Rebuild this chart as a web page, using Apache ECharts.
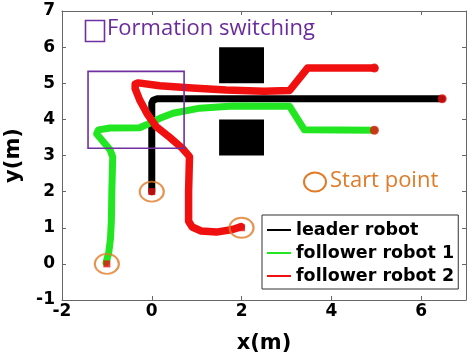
<!DOCTYPE html>
<html>
<head>
<meta charset="utf-8">
<script src="https://cdn.jsdelivr.net/npm/echarts@6/dist/echarts.min.js"></script>
<style>html,body{margin:0;padding:0;background:#fff}#c{width:474px;height:359px}</style>
</head>
<body>
<div id="c"></div>
<script>
var xTicks = [-2, 0, 2, 4, 6];
var yTicks = [-1, 0, 1, 2, 3, 4, 5, 6, 7];
var seriesNames = ['leader robot', 'follower robot 1', 'follower robot 2'];

var leader = [[0,2],[0,3.2],[0,4.45],[0.03,4.53],[0.12,4.57],[2,4.57],[4,4.57],[6.47,4.57]];
var follower1 = [[-1.02,0.03],[-0.96,0.3],[-0.92,0.7],[-0.9,1.2],[-0.89,2.0],[-0.87,2.96],[-0.93,3.16],[-1.08,3.38],[-1.23,3.6],[-1.19,3.71],[-0.93,3.76],[-0.27,3.77],[-0.12,3.85],[0.18,4.03],[0.47,4.17],[1.07,4.31],[1.81,4.37],[3.07,4.36],[3.4,3.71],[4.96,3.70]];
var follower2 = [[1.99,1.03],[1.8,0.95],[1.44,0.88],[1.1,0.91],[0.9,1.02],[0.82,1.18],[0.82,2.0],[0.84,2.97],[0.68,3.2],[0.4,3.5],[0.1,3.8],[-0.1,4.15],[-0.27,4.54],[-0.37,4.85],[-0.37,4.98],[-0.3,5.01],[0.18,4.93],[0.9,4.87],[1.66,4.81],[2.5,4.78],[3.07,4.8],[3.47,5.42],[4.96,5.42]];

var startPoints = [[0,2],[-1,0],[2,1]];
var endPoints = [[6.47,4.57],[4.96,3.70],[4.96,5.42]];
var obstacles = [[1.5,5,2.5,6],[1.5,3,2.5,4]];
var switchBox = [[-1.42,3.2,0.72,5.33]];

var lineColors = ['#000000', '#22e622', '#f01010'];
var trajectories = [leader, follower1, follower2];

function rectRender(fill, stroke, lw) {
  return function (params, api) {
    var p0 = api.coord([api.value(0), api.value(3)]);
    var p1 = api.coord([api.value(2), api.value(1)]);
    return {
      type: 'rect',
      shape: {x: p0[0], y: p0[1], width: p1[0] - p0[0], height: p1[1] - p0[1]},
      style: {fill: fill, stroke: stroke, lineWidth: lw}
    };
  };
}

var chart = echarts.init(document.getElementById('c'));
var FONT = '"DejaVu Sans", Verdana, sans-serif';
var labelStyle = {color: '#000', fontWeight: 'bold', fontSize: 17, fontFamily: FONT};
var axisLineStyle = {show: true, onZero: false, lineStyle: {color: '#666', width: 1}};
var tickStyle = {inside: true, length: 4, lineStyle: {color: '#666'}};

var series = [];
series.push({type: 'custom', renderItem: rectRender('#000', null, 0), data: obstacles, encode: {x: [0, 2], y: [1, 3]}, z: 1, silent: true});
for (var i = 0; i < 3; i++) {
  series.push({
    type: 'line', name: seriesNames[i], data: trajectories[i], showSymbol: false, symbol: 'none',
    smooth: false, color: lineColors[i],
    lineStyle: {color: lineColors[i], width: i === 2 ? 7.5 : 7, cap: 'round', join: 'round'},
    z: 2 + i, animation: false
  });
}
series.push({type: 'custom', renderItem: rectRender('none', '#7030a0', 1.6), data: switchBox, encode: {x: [0, 2], y: [1, 3]}, z: 6, silent: true});
series.push({type: 'scatter', data: endPoints, symbol: 'circle', symbolSize: 9, itemStyle: {color: '#e81010'}, z: 7, silent: true});
series.push({type: 'scatter', data: startPoints, symbol: 'rect', symbolSize: 7, itemStyle: {color: '#e81010'}, z: 7, silent: true});
series.push({type: 'scatter', data: startPoints, symbol: 'circle', symbolSize: [24, 20], itemStyle: {color: 'rgba(0,0,0,0)', borderColor: '#e07b28', borderWidth: 2}, z: 8, silent: true});

chart.setOption({
  animation: false,
  grid: {left: 62, right: 8, top: 11, bottom: 59, containLabel: false, outerBoundsMode: 'none'},
  xAxis: [
    {type: 'value', min: -2, max: 7, interval: 2, position: 'bottom',
     name: 'x(m)', nameLocation: 'middle', nameGap: 33,
     nameTextStyle: {color: '#000', fontWeight: 'bold', fontSize: 21, fontFamily: FONT},
     axisLine: axisLineStyle, axisTick: tickStyle,
     axisLabel: Object.assign({margin: 3, showMaxLabel: false}, labelStyle), splitLine: {show: false}},
    {type: 'value', min: -2, max: 7, interval: 2, position: 'top',
     axisLine: axisLineStyle, axisTick: tickStyle,
     axisLabel: {show: false}, splitLine: {show: false}}
  ],
  yAxis: [
    {type: 'value', min: -1, max: 7, interval: 1, position: 'left',
     name: 'y(m)', nameLocation: 'middle', nameGap: 38,
     nameTextStyle: {color: '#000', fontWeight: 'bold', fontSize: 21, fontFamily: FONT},
     axisLine: axisLineStyle, axisTick: tickStyle,
     axisLabel: Object.assign({margin: 7}, labelStyle), splitLine: {show: false}},
    {type: 'value', min: -1, max: 7, interval: 1, position: 'right',
     axisLine: axisLineStyle, axisTick: tickStyle,
     axisLabel: {show: false}, splitLine: {show: false}}
  ],
  legend: {
    data: seriesNames, orient: 'vertical', left: 262, top: 215,
    icon: 'rect', itemWidth: 24, itemHeight: 2, itemGap: 5,
    padding: [6, 4, 4, 5], borderColor: '#333', borderWidth: 1, backgroundColor: '#fff',
    textStyle: {color: '#000', fontWeight: 'bold', fontSize: 17.5, lineHeight: 17, fontFamily: FONT},
    selectedMode: false
  },
  graphic: [
    {type: 'rect', left: 83, top: 18, shape: {width: 19, height: 21}, style: {fill: 'none', stroke: '#7030a0', lineWidth: 1.6}, z: 10},
    {type: 'text', left: 107, top: 18, style: {text: 'Formation switching', fill: '#6a2c9c', font: '22px "Open Sans", sans-serif'}, z: 10},
    {type: 'ellipse', shape: {cx: 315, cy: 182, rx: 11, ry: 9.5}, style: {fill: 'none', stroke: '#e07b28', lineWidth: 2}, z: 10},
    {type: 'text', left: 330, top: 170, style: {text: 'Start point', fill: '#e07b28', font: '22px "Open Sans", sans-serif'}, z: 10}
  ],
  series: series
});
</script>
</body>
</html>
